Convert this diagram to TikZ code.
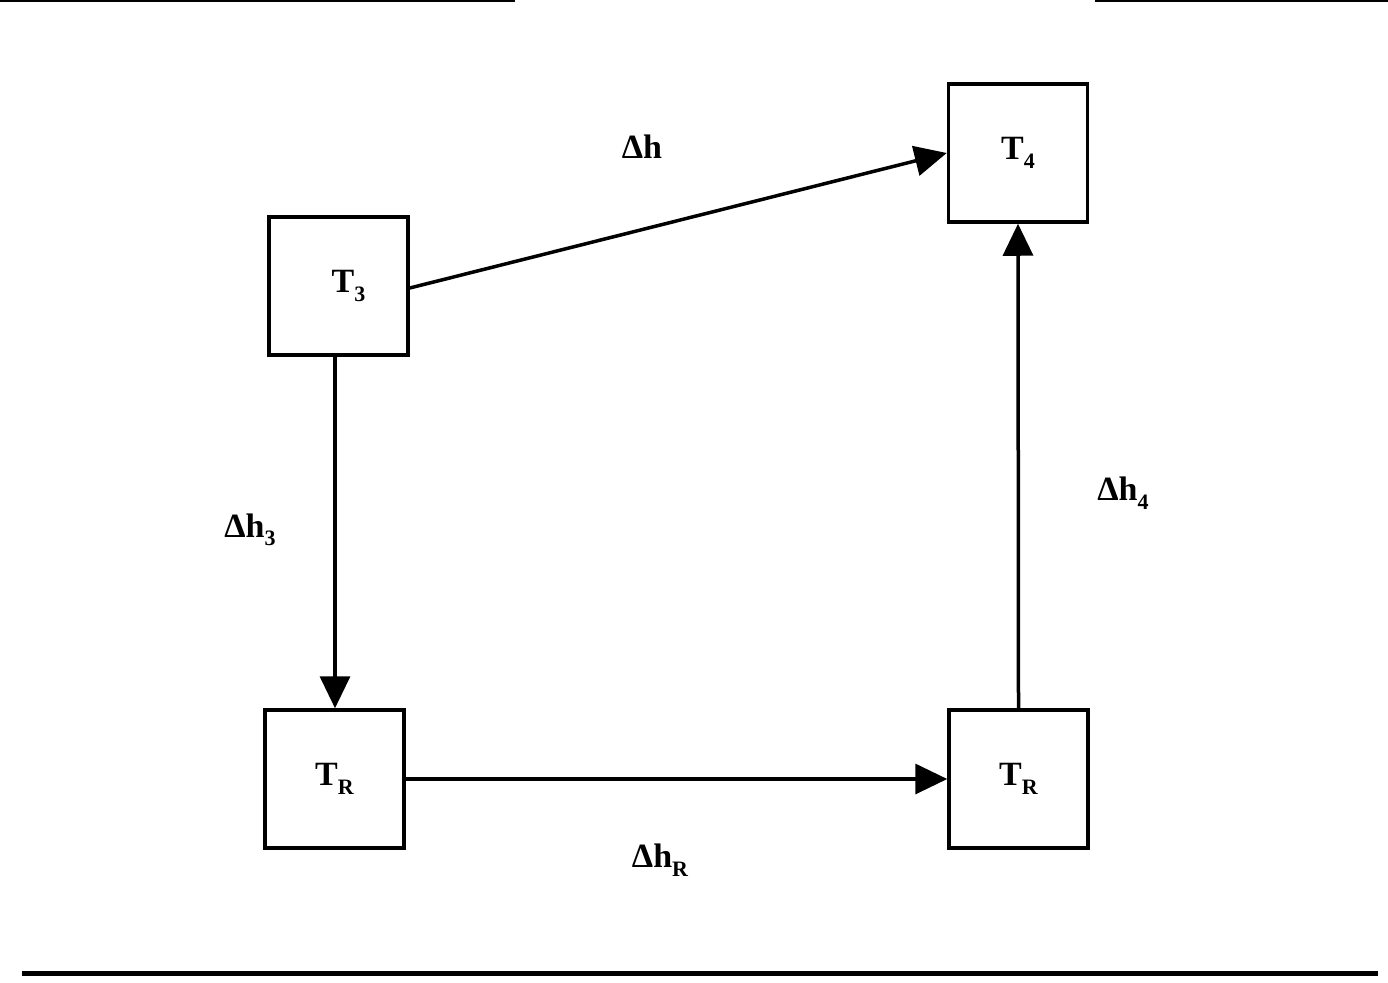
\documentclass[tikz,border=0pt]{standalone}
\usepackage{fontspec}
\setmainfont{Liberation Serif}
\usetikzlibrary{arrows.meta}
\newcommand{\sbs}[1]{\raisebox{-0.25em}{\fontsize{22}{24}\selectfont #1}}
\begin{document}
\begin{tikzpicture}[x=1pt,y=-1pt,
  box/.style={draw,line width=3.5pt,minimum width=139pt,minimum height=138pt,font=\fontsize{34}{38}\selectfont\bfseries},
  arr/.style={line width=3.5pt,-{Triangle[length=32pt,width=30pt]}},
  lab/.style={font=\fontsize{34}{38}\selectfont\bfseries}]
\useasboundingbox (0,0) rectangle (1388,982);
\draw[line width=1.5pt] (0,1) -- (515,1);
\draw[line width=1.5pt] (1095,1) -- (1388,1);
\draw[line width=5pt] (22,973) -- (1378,973);
\node[box] (t4) at (1018,153) {T\sbs{4}};
\node[box] (t3) at (338.5,286) {\hspace*{20pt}T\sbs{3}};
\node[box] (tr1) at (334.5,779) {T\sbs{R}};
\node[box] (tr2) at (1018.5,779) {T\sbs{R}};
\draw[arr] (t3.east) ++(0,2) -- (t4.west);
\draw[arr] (t3.south -| 335,0) -- (tr1.north -| 335,0);
\draw[arr] (tr1.east) -- (tr2.west);
\draw[arr] (tr2.north) -- (t4.south);
\node[lab] (l1) at (642,147) {Δh};
\node[lab] (l2) at (250,530) {Δh\sbs{3}};
\node[lab] (l3) at (1123,493) {Δh\sbs{4}};
\node[lab] (l4) at (660,860) {Δh\sbs{R}};
\end{tikzpicture}
\end{document}
